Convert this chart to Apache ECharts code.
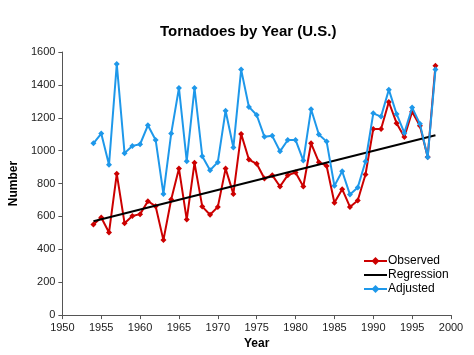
<!DOCTYPE html>
<html>
<head>
<meta charset="utf-8">
<script src="https://cdn.jsdelivr.net/npm/echarts@6/dist/echarts.min.js"></script>
<style>html,body{margin:0;padding:0;background:#fff}#c{width:474px;height:355px}</style>
</head>
<body>
<div id="c"></div>
<script>
const years = [1954,1955,1956,1957,1958,1959,1960,1961,1962,1963,1964,1965,1966,1967,1968,1969,1970,1971,1972,1973,1974,1975,1976,1977,1978,1979,1980,1981,1982,1983,1984,1985,1986,1987,1988,1989,1990,1991,1992,1993,1994,1995,1996,1997,1998];
const observed = [551,594,502,859,559,603,614,693,662,456,703,891,581,926,660,610,658,891,737,1102,946,920,831,851,782,851,867,782,1045,930,907,683,766,658,697,855,1132,1132,1296,1167,1083,1237,1152,962,1517];
const adjusted = [1045,1104,914,1527,985,1029,1039,1154,1065,737,1104,1381,936,1381,966,881,930,1243,1019,1493,1266,1217,1084,1090,996,1065,1065,940,1252,1098,1055,786,875,733,776,934,1227,1207,1371,1223,1108,1262,1163,960,1493];
const regressionYears = [1954, 1998];
const regression = [571, 1094];
const xTicks = [1950,1955,1960,1965,1970,1975,1980,1985,1990,1995,2000];
const yTicks = [0,200,400,600,800,1000,1200,1400,1600];

const pair = (xs, ys) => xs.map((x, i) => [x, ys[i]]);
const font = 'Liberation Sans, Arial, sans-serif';
const axisCol = '#555';

const chart = echarts.init(document.getElementById('c'));
chart.setOption({
  animation: false,
  backgroundColor: '#fff',
  title: {
    text: 'Tornadoes by Year (U.S.)',
    left: 155, top: 19,
    textStyle: { fontFamily: font, fontSize: 15, fontWeight: 'bold', color: '#000' }
  },
  grid: { left: 54, right: 23, top: 52, bottom: 33, containLabel: false },
  legend: {
    orient: 'vertical',
    left: 358, top: 250,
    itemWidth: 23, itemHeight: 10, itemGap: 2,
    textStyle: { fontFamily: font, fontSize: 12, color: '#000', padding: [0,0,0,-4] },
    data: [
      { name: 'Observed' },
      { name: 'Regression', itemStyle: { opacity: 0 } },
      { name: 'Adjusted' }
    ]
  },
  xAxis: {
    type: 'value',
    min: xTicks[0], max: xTicks[xTicks.length - 1], interval: 5,
    name: 'Year', nameLocation: 'middle', nameGap: 19,
    nameTextStyle: { fontFamily: font, fontSize: 12, fontWeight: 'bold', color: '#000' },
    axisLine: { lineStyle: { color: axisCol, width: 1 } },
    axisTick: { show: true, length: 4, lineStyle: { color: axisCol } },
    axisLabel: { fontFamily: font, fontSize: 11, color: '#222', margin: 7,
      formatter: v => xTicks.includes(v) ? String(v) : '' },
    splitLine: { show: false }
  },
  yAxis: {
    type: 'value',
    min: yTicks[0], max: yTicks[yTicks.length - 1], interval: 200,
    name: 'Number', nameLocation: 'middle', nameGap: 41, nameRotate: 90,
    nameTextStyle: { fontFamily: font, fontSize: 12, fontWeight: 'bold', color: '#000' },
    axisLine: { show: true, lineStyle: { color: axisCol, width: 1 } },
    axisTick: { show: true, length: 4, lineStyle: { color: axisCol } },
    axisLabel: { fontFamily: font, fontSize: 11, color: '#222', margin: 7,
      formatter: v => yTicks.includes(v) ? String(v) : '' },
    splitLine: { show: false }
  },
  series: [
    {
      name: 'Observed', type: 'line', data: pair(years, observed),
      symbol: 'diamond', symbolSize: 6,
      itemStyle: { color: '#cc0000' },
      lineStyle: { color: '#cc0000', width: 2 },
      z: 2
    },
    {
      name: 'Regression', type: 'line', data: pair(regressionYears, regression),
      symbol: 'none', showSymbol: false,
      itemStyle: { color: '#000' },
      lineStyle: { color: '#000', width: 2 },
      z: 3
    },
    {
      name: 'Adjusted', type: 'line', data: pair(years, adjusted),
      symbol: 'diamond', symbolSize: 6,
      itemStyle: { color: '#1e98ea' },
      lineStyle: { color: '#1e98ea', width: 2 },
      z: 4
    }
  ]
});
</script>
</body>
</html>
